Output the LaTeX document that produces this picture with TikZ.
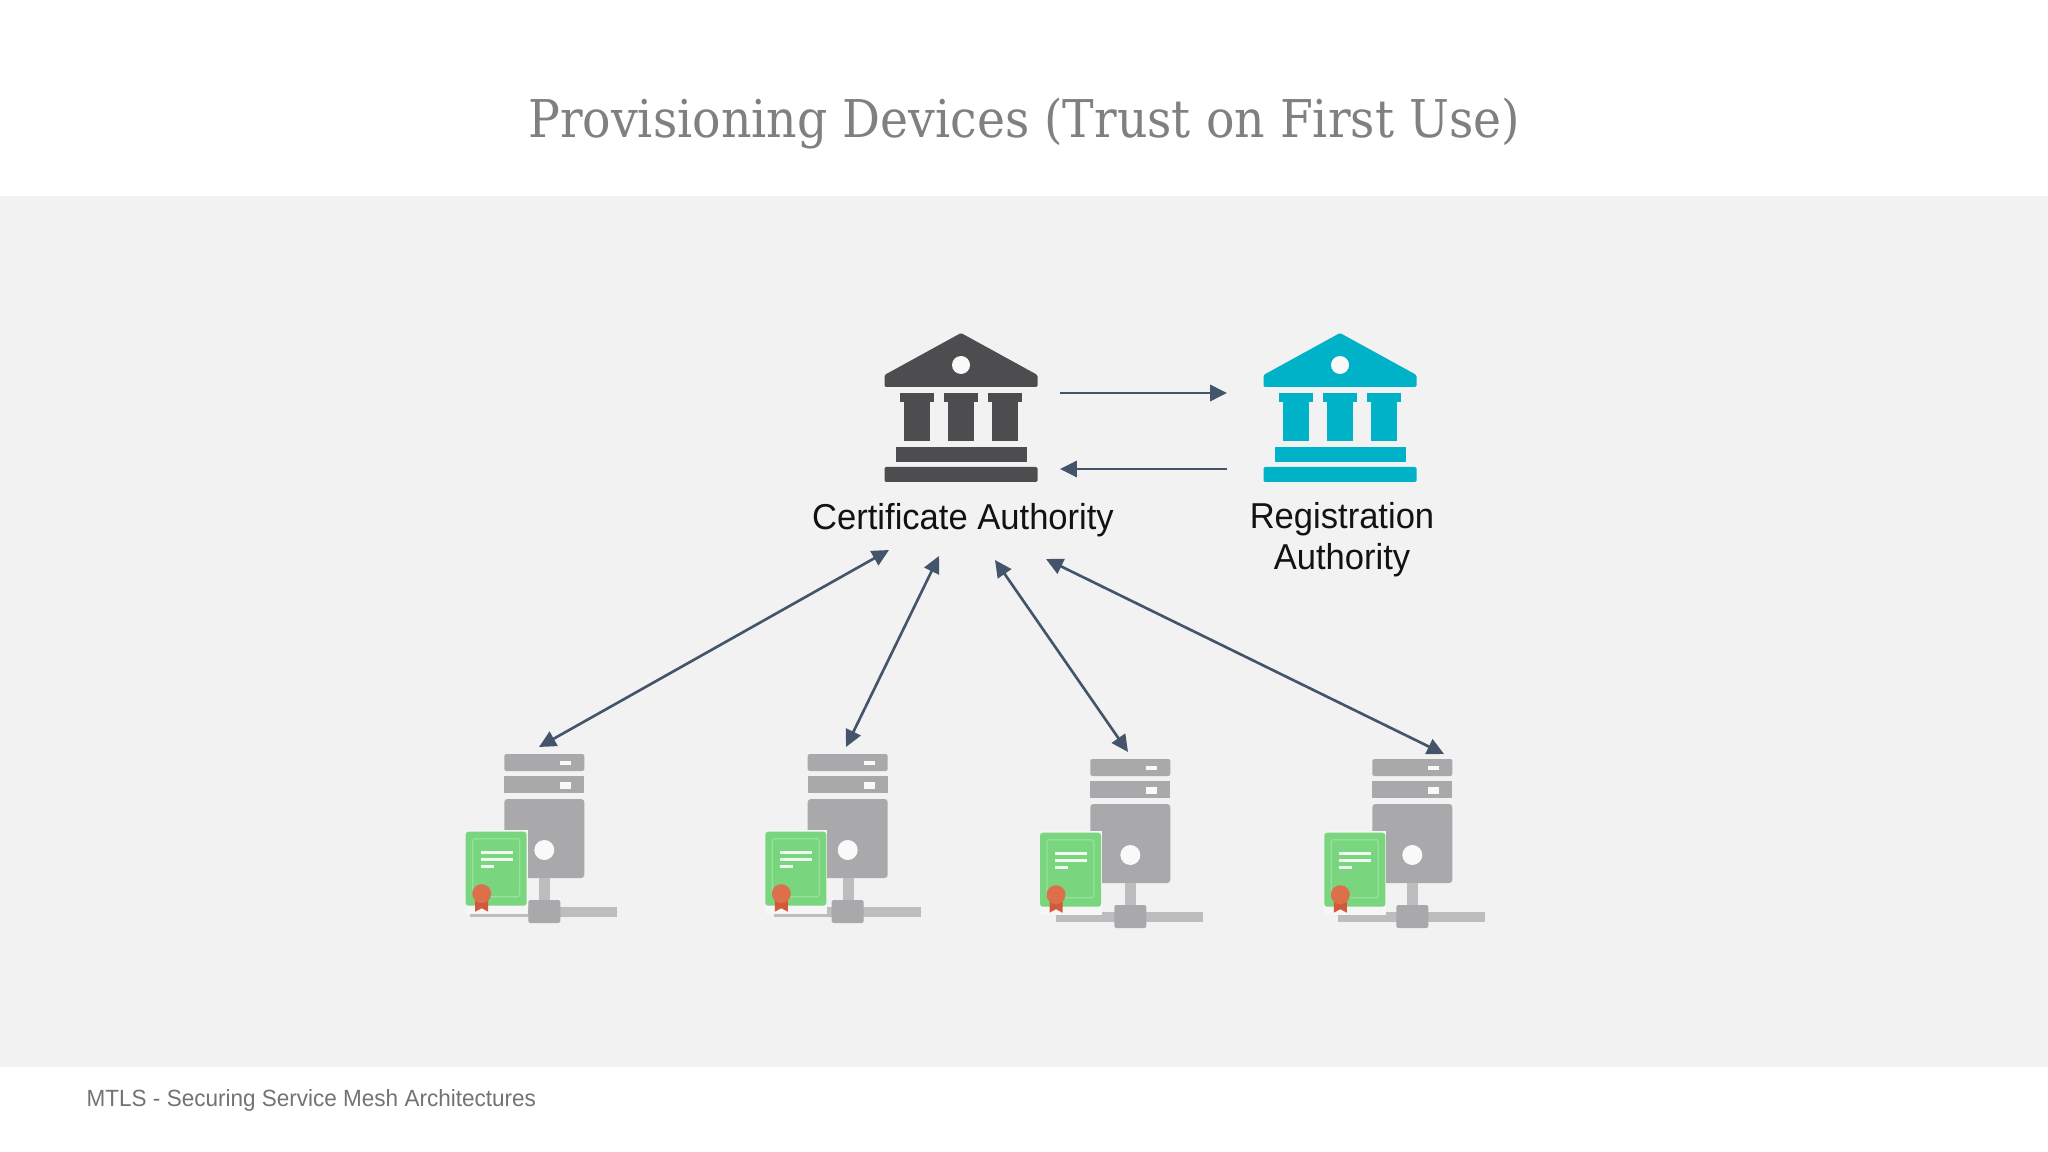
\documentclass[tikz,border=0pt]{standalone}
\usepackage{fontspec}
\usetikzlibrary{arrows.meta}
\setmainfont[FakeStretch=0.96]{Liberation Sans}
\newfontfamily\slabfont[FakeStretch=0.91]{DejaVu Serif}
\definecolor{panel}{RGB}{242,242,243}
\definecolor{linkblue}{RGB}{68,84,106}
\definecolor{cagray}{RGB}{77,77,79}
\definecolor{rateal}{RGB}{0,178,200}
\definecolor{srvgray}{RGB}{169,168,170}
\definecolor{srvlight}{RGB}{189,188,190}
\definecolor{certgreen}{RGB}{121,214,127}
\definecolor{certframe}{RGB}{150,226,154}
\definecolor{sealred}{RGB}{219,112,74}
\definecolor{ribbonred}{RGB}{212,88,58}
\tikzset{
  link/.style={linkblue,line width=0.75pt,-{Triangle[length=4.8pt,width=4.6pt]}},
  twolink/.style={linkblue,line width=0.75pt,{Triangle[length=4.8pt,width=4.6pt]}-{Triangle[length=4.8pt,width=4.6pt]}},
  caption/.style={text=black!93,align=center,font=\fontsize{10.24}{11.66}\selectfont}
}

\begin{document}
\begin{tikzpicture}[x=0.01cm,y=-0.01cm]
\useasboundingbox (0,0) rectangle (2048,1152);
\fill [white] (0,0) rectangle (2048,1152);
\fill [panel] (0,196) rectangle (2048,1067);
\node (title) [text=black!50,font=\slabfont\fontsize{14.8}{16}\selectfont] at (1024,124) {Provisioning Devices (Trust on First Use)};
\node (footer) [anchor=west,inner sep=0pt,text=black!55,font=\fontsize{6.67}{8}\selectfont] at (86,1100) {MTLS - Securing Service Mesh Architectures};

% banks
\foreach \bx/\col in {961/cagray,1340/rateal} {
\begin{scope}[shift={(\bx,0)}]
\fill [\col,rounded corners=0.4pt] (-76.5,375)--(0,333)--(76.5,375)--(76.5,387)--(-76.5,387)--cycle;
\fill [panel!50!white] (0,365) circle (9);
\foreach \c in {-44,0,44} {
\fill [\col] (\c-17,393) rectangle (\c+17,402);
\fill [\col] (\c-13,402) rectangle (\c+13,441);
}
\fill [\col] (-65.5,447) rectangle (65.5,462);
\fill [\col,rounded corners=0.4pt] (-76.5,467) rectangle (76.5,482);
\end{scope}
}
\node (ca) [caption] at (963,520) {Certificate Authority};
\node (ra) [caption] at (1342,540) {Registration\\Authority};

% servers, each with its certificate
\foreach \sx/\sy/\cx/\cy in {504.3/754/465.7/831.7,807.7/754/765.3/831.7,1090.3/759/1040/832.7,1372.3/759/1324.3/832.7} {
\begin{scope}[shift={(\sx,\sy)}]
\fill [srvgray,rounded corners=0.6pt] (0,17)--(0,0)--(80,0)--(80,17)--cycle;
\fill [srvgray] (0,22) rectangle (80,39);
\fill [srvgray,rounded corners=0.9pt] (0,45)--(80,45)--(80,124)--(0,124)--cycle;
\fill [panel!50!white] (56,7) rectangle (67,11);
\fill [panel!50!white] (56,28) rectangle (67,35);
\fill [panel!50!white] (40,96) circle (10);
\fill [srvlight] (35,124) rectangle (46,146);
\fill [srvlight] (-34,153) rectangle (113,163);
\fill [srvgray,rounded corners=0.6pt] (24,146) rectangle (56,169);
\end{scope}
\begin{scope}[shift={(\cx,\cy)}]
\fill [panel!70!white] (0,-2) rectangle (62,82);
\fill [certgreen,rounded corners=0.8pt] (0,0) rectangle (61,74);
\draw [certframe,line width=0.35pt,rounded corners=0.5pt] (7,7) rectangle (54,65);
\foreach \ly/\lx in {21/47,28/47,34.5/28} {
\draw [white!88!certgreen,line width=0.85pt] (15,\ly)--(\lx,\ly);
}
\fill [ribbonred] (9.5,64)--(22.5,64)--(22.5,80)--(16,76.5)--(9.5,80)--cycle;
\fill [sealred] (16,62) circle (9.5);
\end{scope}
}

% ends of the connectors
\coordinate (caout) at (1060,393);
\coordinate (rain) at (1227,393);
\coordinate (raout) at (1227,469);
\coordinate (cain) at (1060,469);
\coordinate (caa) at (889,550);
\coordinate (cab) at (939,556);
\coordinate (cac) at (995,560);
\coordinate (cad) at (1046,559);
\coordinate (srva) at (539,747);
\coordinate (srvb) at (846,747);
\coordinate (srvc) at (1128,752);
\coordinate (srvd) at (1444,754);

\draw [link] (caout)--(rain);
\draw [link] (raout)--(cain);
\foreach \k in {a,b,c,d} {\draw [twolink] (ca\k)--(srv\k);}
\end{tikzpicture}
\end{document}
